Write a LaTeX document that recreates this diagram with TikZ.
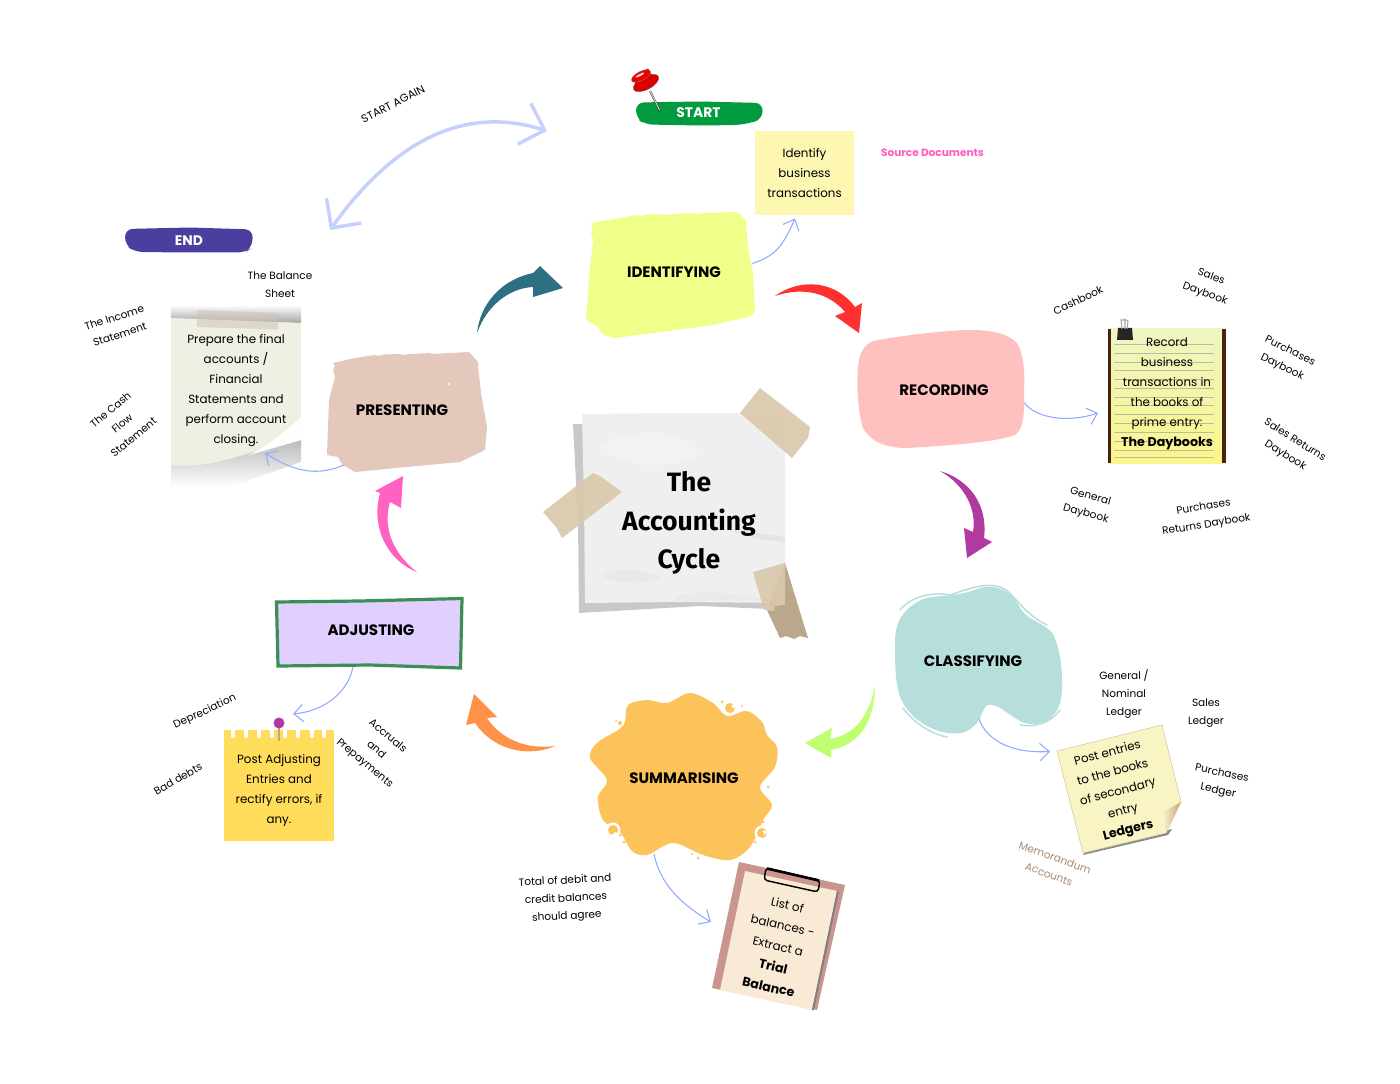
\documentclass[tikz,border=0pt]{standalone}
\usepackage{fontspec}
\usetikzlibrary{arrows.meta,calc}
\setmainfont{Poppins}
\newfontfamily\bodyfont{Poppins}
\newfontfamily\headfont{Poppins}[BoldFont={Poppins Bold}]
\newfontfamily\titlefont{Fira Sans}[BoldFont={Fira Sans Bold}]
\newcommand{\notebold}{\headfont\bfseries\fontsize{9.5}{15}\selectfont}
\definecolor{linkblue}{HTML}{93A9FF}
\definecolor{againblue}{HTML}{C5D0FF}
\definecolor{tape}{HTML}{D9C8AC}
\definecolor{tapedark}{HTML}{BBA78C}
\definecolor{stickyyellow}{HTML}{FDF7B2}
\definecolor{paperpale}{HTML}{EFEFE3}
\definecolor{sumorange}{RGB}{252,195,90}
\definecolor{classteal}{RGB}{182,222,219}
\tikzset{
  x=0.75pt, y=-0.75pt,
  stagename/.style={font=\headfont\bfseries\fontsize{11.3}{13}\selectfont, text=black, inner sep=0pt},
  pilltext/.style={font=\headfont\bfseries\fontsize{10.4}{13}\selectfont, text=white, inner sep=0pt},
  notetext/.style={font=\bodyfont\fontsize{8.9}{15}\selectfont, align=center, inner sep=0pt},
  sidelabel/.style={font=\bodyfont\fontsize{7.9}{13.4}\selectfont, align=center, inner sep=0pt},
  thinlink/.style={draw=linkblue, line width=0.8pt, -{Straight Barb[length=7pt,width=13pt,line width=0.8pt]}},
  againlink/.style={draw=againblue, line width=2.6pt, line cap=round,
     {Straight Barb[length=16pt,width=32pt,line width=2.6pt]}-{Straight Barb[length=16pt,width=32pt,line width=2.6pt]}},
}
\begin{document}
\begin{tikzpicture}
\useasboundingbox (0,0) rectangle (1400,1084);
\fill[white] (0,0) rectangle (1400,1084);

% ---------- stage shapes ----------
\fill[fill={rgb,255:red,239;green,255;blue,138}, rounded corners=0.6pt]
  (591,223)--(615,219)--(637,215)--(640,216)--(646,214.5)--(662,214)--(664,215)--(687,213)--(700,214)--(702,213)--(737,212)--(746,220)--(746,224)--(748,247)--(753,273)--(755,310)--(752,316)--(713,325)--(653,333)--(615,338)--(603,335)--(600,331)--(598,327)--(586,320)--(590,267)--(593,240)--(591,232)--(593,228)--cycle;
\fill[fill={rgb,255:red,227;green,200;blue,187}, rounded corners=0.6pt]
  (333,363)--(355,358)--(375,355)--(378,356)--(384,354.5)--(400,354)--(402,355)--(410,354)--(430,353)--(432,354)--(469,352)--(478,362)--(478,366)--(481,393)--(487,427)--(485,450)--(460,462)--(407,467)--(355,472)--(343,465)--(340,461)--(338,457)--(327,455)--(329,400)--(335,377)--(333,370)--(335,366)--cycle;
\fill[white] (448,383) -- (450,384) -- (449,386) -- cycle;
\fill[fill={rgb,255:red,255;green,192;blue,192}]
  (873,341) .. controls (905,335) and (940,331) .. (967,330)
  .. controls (985,330) and (1005,331) .. (1017,343)
  .. controls (1024,355) and (1025,375) .. (1024,390)
  .. controls (1024,410) and (1025,428) .. (1015,435)
  .. controls (1000,441) and (960,445) .. (907,448)
  .. controls (890,448) and (872,444) .. (863,428)
  .. controls (857,410) and (856,375) .. (859,360)
  .. controls (861,350) and (866,344) .. (873,341) -- cycle;

% classifying blob with its loose outline strokes
\fill[fill=classteal]
  (895,643) .. controls (895,625) and (900,610) .. (923,599)
  .. controls (940,594) and (955,598) .. (980,588)
  .. controls (995,584) and (1010,590) .. (1018,604)
  .. controls (1026,622) and (1045,622) .. (1053,634)
  .. controls (1063,655) and (1064,690) .. (1060,703)
  .. controls (1055,720) and (1040,727) .. (1025,723)
  .. controls (1010,718) and (1000,703) .. (988,705)
  .. controls (980,708) and (985,722) .. (965,732)
  .. controls (945,738) and (915,725) .. (903,703)
  .. controls (895,690) and (895,665) .. (895,643) -- cycle;
\draw[draw=classteal, line width=1.1pt, line cap=round]
  (900,610) .. controls (912,595) and (935,592) .. (950,595)
  .. controls (965,590) and (985,582) .. (1000,587)
  .. controls (1015,592) and (1020,612) .. (1047,625);
\draw[draw=classteal, line width=1.1pt, line cap=round]
  (903,708) .. controls (915,725) and (935,735) .. (947,737);
\draw[draw=classteal, line width=1.1pt, line cap=round]
  (1020,725) .. controls (1035,728) and (1052,722) .. (1060,710);

% summarising blob and its paint specks
\fill[fill=sumorange]
  plot[smooth cycle, tension=0.55] coordinates {
  (590,758) (597,743) (618,730) (625,722) (628,705) (647,700) (667,703) (690,693) (713,703) (727,716)
  (747,711) (762,722) (767,735) (777,747) (775,767) (760,787) (772,805) (763,820) (750,847) (730,860)
  (703,855) (673,843) (647,855) (632,851) (620,832) (603,820) (598,797) (607,780)};
\fill[white] (730,708) circle (7.5);
\fill[white] (613,830) circle (7.5);
\fill[white] (762,833) circle (7.5);
\begin{scope}[fill=sumorange]
  \fill (730,708) circle (5); \fill (722,702) circle (1.5); \fill (742,706) circle (1); \fill (620,723) circle (2); \fill (616,721) circle (1);
  \fill (613,830) circle (5); \fill (606,821) circle (1.5); \fill (624,842) circle (1.5); \fill (620,835) circle (1.5);
  \fill (762,833) circle (5); \fill (755,842) circle (1.5); \fill (763,822) circle (1.5); \fill (768,787) circle (1.5); \fill (698,858) circle (1.5); \fill (692,854) circle (1);
\end{scope}
\fill[white] (731,706) -- (735,703) -- (734,709) -- cycle;
\fill[white] (615,832) -- (619,835) -- (612,835) -- cycle;
\fill[white] (764,835) -- (768,832) -- (763,830) -- cycle;

% adjusting frame
\filldraw[fill={rgb,255:red,224;green,207;blue,255}, draw={rgb,255:red,58;green,143;blue,85}, line width=2.4pt]
  (276.5,602) -- (360,601) -- (462,598.5) -- (460.5,668) -- (370,665) -- (278,666) -- cycle;

% ---------- start / end pills ----------
\fill[fill={rgb,255:red,0;green,155;blue,62}, rounded corners=6pt] (636,102.5) -- (700,101.5) -- (763,103) -- (762,120) -- (740,125) -- (700,125.5) -- (645,124.5) -- (636,118) -- cycle;
\fill[fill={rgb,255:red,74;green,63;blue,158}, rounded corners=6pt] (125,229) -- (190,227.5) -- (253,229.5) -- (252,248) -- (245,252.5) -- (190,252.5) -- (135,252) -- (125,245) -- cycle;

% ---------- push pin on the start pill ----------
\draw[draw=black!75, line width=1.4pt] (650,91) -- (660,111);
\draw[draw=white, line width=0.5pt] (650,91) -- (659.5,110);
\filldraw[fill=red!85!black, draw=black!60, line width=0.3pt, rotate around={28:(646,83)}] (646,83) ellipse (14 and 6.5);
\fill[fill=red!85!black, rotate around={28:(643,78)}] (634,72) rectangle (652,84);
\filldraw[fill=red!92!black, draw=black!50, line width=0.3pt, rotate around={28:(641,76)}] (641,76) ellipse (10.5 and 4.5);
\fill[fill=red!25!white, rotate around={28:(640,75)}] (640,75) ellipse (5 and 1.2);

% ---------- business transactions sticky ----------
\fill[fill=stickyyellow] (755,131) rectangle (854,215);

% ---------- central torn note with tapes ----------
\fill[fill={rgb,255:red,200;green,200;blue,200}] (573,424) -- (600,424) -- (600,600) -- (770,600) -- (770,609) -- (700,606) -- (579,613) -- (578,520) -- cycle;
\fill[fill={rgb,255:red,239;green,239;blue,239}] (582,414) -- (690,413) -- (785,413) -- (785,480) -- (785,603) -- (680,602) -- (585,603) -- (584,500) -- cycle;
\fill[fill={rgb,255:red,233;green,233;blue,233}] (600,575) .. controls (620,565) and (650,570) .. (660,578) .. controls (650,585) and (615,585) .. (600,575) -- cycle;
\fill[fill={rgb,255:red,228;green,228;blue,228}] (730,530) .. controls (750,532) and (770,535) .. (785,537) -- (785,542) .. controls (765,540) and (745,537) .. (730,530) -- cycle;
\fill[fill={rgb,255:red,234;green,234;blue,234}] (675,596) .. controls (700,590) and (730,592) .. (770,600) -- (676,601) -- cycle;
\fill[fill={rgb,255:red,242;green,242;blue,242}] (600,445) .. controls (640,425) and (680,430) .. (700,455) .. controls (670,470) and (620,470) .. (600,445) -- cycle;
\fill[fill=tapedark] (785,563) -- (808,638) -- (800,636) -- (794,639) -- (786,636) -- (780,638) -- (767,610) -- cycle;
\fill[fill=tape, opacity=0.92] (760,388) -- (810,427) -- (808,438) -- (792,458) -- (740,413) -- cycle;
\fill[fill=tape, opacity=0.92] (593,473) -- (600,476) -- (622,492) -- (562,538) -- (556,527) -- (543,512) -- cycle;
\fill[fill=tape, opacity=0.92] (753,572) -- (785,563) -- (785,605) -- (775,606) -- (774,611) -- (764,610) -- cycle;

% ---------- daybooks ruled pad ----------
\shade[top color={rgb,255:red,240;green,245;blue,195}, middle color={rgb,255:red,241;green,245;blue,190}, bottom color={rgb,255:red,250;green,246;blue,140}] (1108,329) rectangle (1226,463);
\fill[fill={rgb,255:red,70;green,36;blue,16}] (1108,329) rectangle (1111,463);
\fill[fill={rgb,255:red,70;green,36;blue,16}] (1222,329) rectangle (1226,463);
\foreach \yy in {344,353,362,370,379,388,397,405,414,423,432,441,450,457}
  \draw[draw={rgb,255:red,186;green,190;blue,150}, line width=0.5pt] (1114,\yy) -- (1214,\yy);
% binder clip
\fill[fill=black!85] (1118,328) -- (1132,328) -- (1133,340) -- (1117,340) -- cycle;
\draw[draw=black!35, line width=0.8pt] (1122,329) -- (1121,320) -- (1125,320) -- (1125,329);
\draw[draw=black!35, line width=0.8pt] (1127,329) -- (1128,321) -- (1124,319);

% ---------- ledger sticky note ----------
\fill[fill=black!45] (1083,855) -- (1168,835) -- (1172,829) -- (1085,851) -- cycle;
\filldraw[fill={rgb,255:red,248;green,244;blue,196}, draw={rgb,255:red,216;green,198;blue,160}, line width=0.4pt]
  (1057,751) -- (1162,725) -- (1181,802) -- (1166,833) -- (1083,853) -- cycle;
\shade[left color={rgb,255:red,248;green,240;blue,210}, right color={rgb,255:red,200;green,165;blue,115}]
  (1181,802) -- (1163,812) -- (1166,833) -- cycle;

% ---------- trial balance clipboard ----------
\fill[fill={rgb,255:red,201;green,149;blue,142}] (739,862) -- (845,885) -- (817,1010) -- (712,988) -- cycle;
\fill[fill={rgb,255:red,249;green,234;blue,214}] (745,871) -- (837,891) -- (812,1010) -- (720,990) -- cycle;
\fill[fill=black!50] (837,891) -- (839,891.5) -- (814,1010) -- (812,1010) -- cycle;
\draw[draw=black, line width=1.1pt, rounded corners=2.5pt] (766,868) -- (820,880.5) -- (818,892) -- (764,880) -- cycle;
\draw[draw=black, line width=2pt] (767,868.5) -- (819,880.5);

% ---------- final accounts curled note ----------
\shade[top color=white, bottom color=black!35] (171,305) -- (301,305) -- (301,323) -- (171,319) -- cycle;
\shade[top color=black!28, bottom color=white] (171,463) -- (301,438) -- (301,462) -- (230,487) -- (171,487) -- cycle;
\fill[fill=paperpale] (171,318) -- (301,323) -- (301,440) -- (260,450) .. controls (225,460) and (205,468) .. (171,465) -- cycle;
\fill[fill=white!92!paperpale] (301,417) .. controls (290,427) and (270,445) .. (247,456) .. controls (265,450) and (285,445) .. (301,440) -- cycle;
\fill[fill={rgb,255:red,205;green,195;blue,185}, opacity=0.55] (197,310) -- (278,313) -- (278,329.5) -- (197,327) -- cycle;

% ---------- yellow notched note with map pin ----------
\fill[fill={rgb,255:red,255;green,220;blue,90}] (224,730) rectangle (334,841);
\foreach \xx in {233,246,259,272,285,298,312,324}{
  \fill[white] (\xx-2,729) rectangle (\xx+2,736);
  \fill[white] (\xx,736) circle (2.2);
}
\fill[fill=tapedark] (278.2,725) rectangle (279.8,741);
\fill[fill={rgb,255:red,176;green,58;blue,160}] (279,723) circle (5.5);

% ---------- curved block arrows of the cycle ----------
\fill[fill={rgb,255:red,47;green,111;blue,132}]
  (477,333) .. controls (480,305) and (500,280) .. (533,273) -- (540,266) -- (563,288) -- (533,297) -- (533,287)
  .. controls (510,288) and (487,305) .. (477,333) -- cycle;
\fill[fill={rgb,255:red,255;green,48;blue,48}]
  (775,296) .. controls (800,278) and (835,280) .. (855,307) -- (862,303) -- (859,333) -- (835,316) -- (845,312)
  .. controls (830,294) and (805,286) .. (775,296) -- cycle;
\fill[fill={rgb,255:red,176;green,58;blue,160}]
  (940,471) .. controls (970,480) and (988,505) .. (984,538) -- (992,542) -- (967,558) -- (964,528) -- (973,532)
  .. controls (977,510) and (965,485) .. (940,471) -- cycle;
\fill[fill={rgb,255:red,191;green,255;blue,112}]
  (875,685) .. controls (875,720) and (860,745) .. (831,750) -- (831,758) -- (805,743) -- (832,728) -- (830,739)
  .. controls (855,735) and (870,715) .. (875,685) -- cycle;
\fill[fill={rgb,255:red,255;green,145;blue,72}]
  (555,746) .. controls (530,757) and (495,752) .. (475,723) -- (466,725) -- (474,694) -- (497,717) -- (487,718)
  .. controls (500,738) and (525,750) .. (555,746) -- cycle;
\fill[fill={rgb,255:red,255;green,98;blue,192}]
  (417,572) .. controls (390,562) and (370,530) .. (380,493) -- (375,491) -- (403,476) -- (401,508) -- (390,502)
  .. controls (382,530) and (395,555) .. (417,572) -- cycle;

% ---------- named nodes ----------
\node[stagename, minimum width=156pt*0.75, minimum height=116pt*0.75] (identifying) at (674,272.5) {IDENTIFYING};
\node[stagename] (recording) at (944,390.5) {RECORDING};
\node[stagename] (classifying) at (973,661) {CLASSIFYING};
\node[stagename] (summarising) at (684,778) {SUMMARISING};
\node[stagename] (adjusting) at (371,630) {ADJUSTING};
\node[stagename] (presenting) at (402,410) {PRESENTING};
\node[pilltext] (start) at (698.5,113) {START};
\node[pilltext] (end) at (189,241) {END};

\node[font=\titlefont\bfseries\fontsize{19.9}{29}\selectfont, align=center, inner sep=0pt] (title) at (689,523) {The\\Accounting\\Cycle};

\node[notetext] (identify) at (804.5,173.5) {Identify\\business\\transactions};
\node[font=\headfont\bfseries\fontsize{7.9}{9}\selectfont, text={rgb,255:red,255;green,90;blue,190}, inner sep=0pt] (source) at (932.5,153) {Source Documents};
\node[notetext] (daybooks) at (1167,394) {Record\\business\\transactions in\\the books of\\prime entry:\\\notebold The Daybooks};
\node[notetext, rotate=15] (ledgers) at (1118,792.5) {Post entries\\to the books\\of secondary\\entry\\\notebold Ledgers};
\node[notetext, rotate=-13, font=\bodyfont\fontsize{8.9}{15.8}\selectfont] (trial) at (778,946) {List of\\balances -\\Extract a\\\notebold Trial\\\notebold Balance};
\node[notetext] (adjustnote) at (279,791) {Post Adjusting\\Entries and\\rectify errors, if\\any.};
\node[notetext] (finalnote) at (236,391) {Prepare the final\\accounts /\\Financial\\Statements and\\perform account\\closing.};

\node[sidelabel, rotate=26] (cashbook) at (1078,300) {Cashbook};
\node[sidelabel, rotate=-20] (salesday) at (1208,285.5) {Sales\\Daybook};
\node[sidelabel, rotate=-26] (purchday) at (1286,359.5) {Purchases\\Daybook};
\node[sidelabel, rotate=-32] (salesret) at (1290,448) {Sales Returns\\Daybook};
\node[sidelabel, rotate=-15] (generalday) at (1088,505.5) {General\\Daybook};
\node[sidelabel, rotate=9] (purchret) at (1205,516.5) {Purchases\\Returns Daybook};

\node[sidelabel] (nominal) at (1124,694) {General /\\Nominal\\Ledger};
\node[sidelabel] (salesledger) at (1206,713) {Sales\\Ledger};
\node[sidelabel, rotate=-12] (purchledger) at (1220,782.5) {Purchases\\Ledger};
\node[sidelabel, rotate=-20, text={rgb,255:red,168;green,134;blue,112}] (memo) at (1052,866) {Memorandum\\Accounts};

\node[sidelabel, rotate=3] (agree) at (566,899) {Total of debit and\\credit balances\\should agree};
\node[sidelabel, rotate=25] (depreciation) at (205,712) {Depreciation};
\node[sidelabel, rotate=30] (baddebts) at (178,779) {Bad debts};
\node[sidelabel, rotate=-40] (accruals) at (376,750) {Accruals\\and\\Prepayments};
\node[sidelabel] (balancesheet) at (280,285) {The Balance\\Sheet};
\node[sidelabel, rotate=18] (income) at (117,326) {The Income\\Statement};
\node[sidelabel, rotate=40] (cashflow) at (122,423.5) {The Cash\\Flow\\Statement};
\node[sidelabel, rotate=27, font=\bodyfont\fontsize{8.3}{13}\selectfont] (again) at (393,104) {START AGAIN};

% ---------- thin connectors from stage to note ----------
\draw[thinlink] ([shift={(0,-9)}]identifying.east) .. controls +(22,-7) and +(-12,28) .. ([shift={(-9.5,45)}]identify.center);
\draw[thinlink] ([shift={(80,12)}]recording.center) .. controls +(12,16) and +(-30,10) .. ([shift={(-69,19)}]daybooks.center);
\draw[thinlink] ([shift={(6,58)}]classifying.center) .. controls +(8,22) and +(-38,2) .. ([shift={(-68,-41)}]ledgers.center);
\draw[thinlink] ([shift={(-30,76)}]summarising.center) .. controls +(6,30) and +(-30,-18) .. ([shift={(-67,-24)}]trial.center);
\draw[thinlink] ([shift={(-18,37)}]adjusting.center) .. controls +(-5,25) and +(32,-3) .. ([shift={(14,-77)}]adjustnote.center);
\draw[thinlink] ([shift={(-58,55)}]presenting.center) .. controls +(-28,12) and +(28,18) .. ([shift={(29,62)}]finalnote.center);

% ---------- return arc from end back to start ----------
\coordinate (arcend) at (330,230);
\coordinate (arcstart) at (547,131);
\draw[againlink] (arcend) .. controls (380,160) and (450,100) .. (arcstart);
\end{tikzpicture}
\end{document}
